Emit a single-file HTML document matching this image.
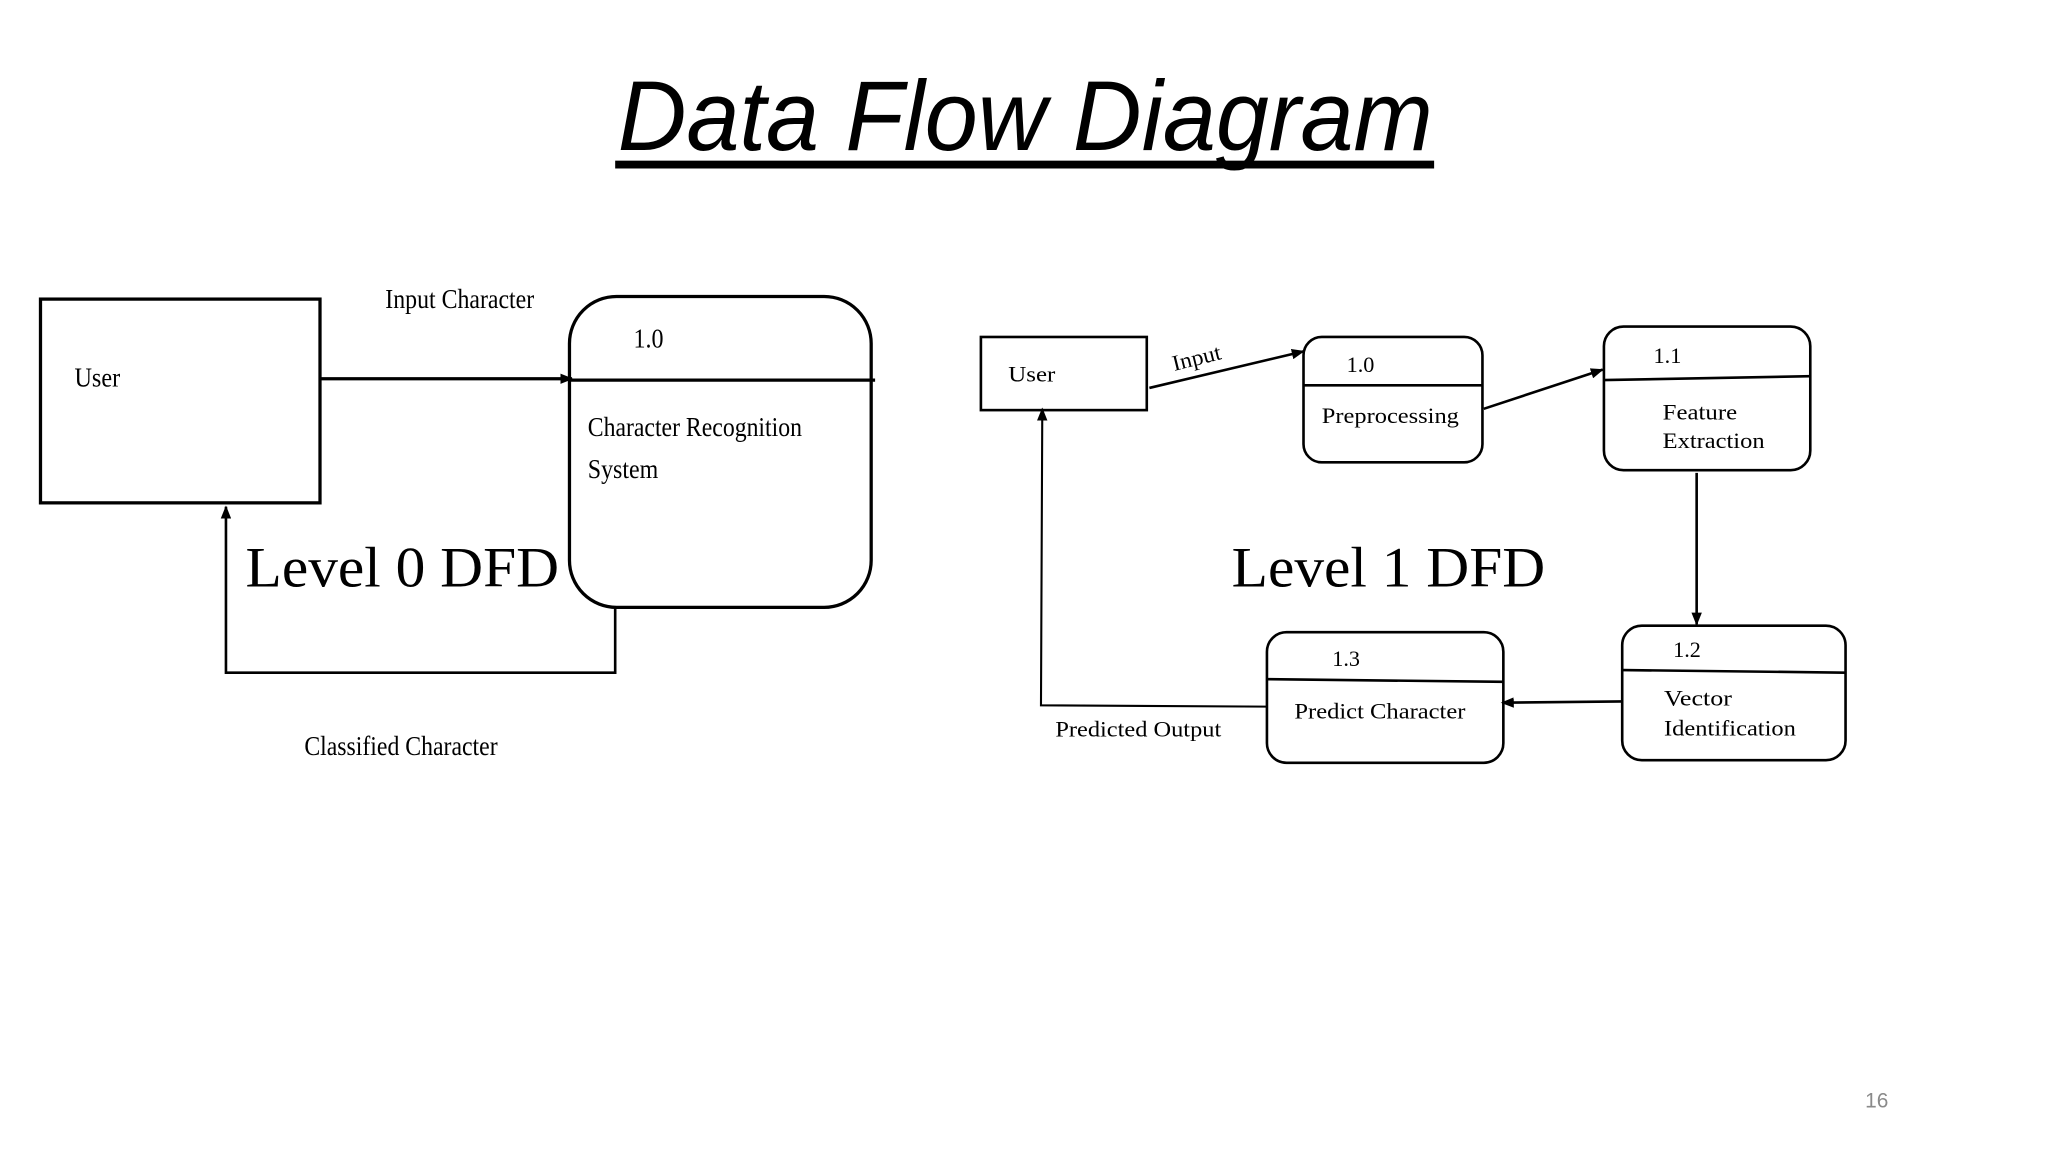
<!DOCTYPE html>
<html><head><meta charset="utf-8"><style>
html,body{margin:0;padding:0;background:#fff;}
svg{display:block;}
</style></head><body>
<svg width="2048" height="1152" viewBox="0 0 1568 882" xmlns="http://www.w3.org/2000/svg">
<defs>
<marker id="ah" markerWidth="10" markerHeight="8" refX="9" refY="4" orient="auto" markerUnits="userSpaceOnUse">
<path d="M0,0 L10,4 L0,8 Z" fill="#000"/>
</marker>
</defs>
<rect width="1568" height="882" fill="#fff"/>
<!-- title -->
<text x="473" y="115" font-family="Liberation Sans, sans-serif" font-style="italic" font-size="76" textLength="624" lengthAdjust="spacingAndGlyphs" fill="#000">Data Flow Diagram</text>
<rect x="471" y="123" width="627" height="6" fill="#000"/>

<g font-family="Liberation Serif, serif" fill="#000">
<!-- Level 0 -->
<rect x="31" y="229" width="214" height="156" fill="none" stroke="#000" stroke-width="2.5"/>
<text x="57" y="296" font-size="21" textLength="35" lengthAdjust="spacingAndGlyphs">User</text>
<line x1="245" y1="290" x2="438" y2="290" stroke="#000" stroke-width="2.5" marker-end="url(#ah)"/>
<text x="295" y="236" font-size="21" textLength="114" lengthAdjust="spacingAndGlyphs">Input Character</text>
<rect x="436" y="227" width="231" height="238" rx="36" ry="36" fill="none" stroke="#000" stroke-width="2.5"/>
<line x1="436" y1="291" x2="670" y2="291" stroke="#000" stroke-width="2.5"/>
<text x="485" y="266" font-size="21" textLength="23" lengthAdjust="spacingAndGlyphs">1.0</text>
<text x="450" y="334" font-size="21" textLength="164" lengthAdjust="spacingAndGlyphs">Character Recognition</text>
<text x="450" y="366" font-size="21" textLength="54" lengthAdjust="spacingAndGlyphs">System</text>
<text x="188" y="449" font-size="44" textLength="240" lengthAdjust="spacingAndGlyphs">Level 0 DFD</text>
<polyline points="471,465 471,515 173,515 173,388" fill="none" stroke="#000" stroke-width="2" marker-end="url(#ah)"/>
<text x="233" y="578" font-size="21" textLength="148" lengthAdjust="spacingAndGlyphs">Classified Character</text>

<!-- Level 1 -->
<rect x="751" y="258" width="127" height="56" fill="none" stroke="#000" stroke-width="2"/>
<text x="772" y="292" font-size="17" textLength="36" lengthAdjust="spacingAndGlyphs">User</text>
<line x1="880" y1="297" x2="998" y2="269" stroke="#000" stroke-width="2" marker-end="url(#ah)"/>
<text x="899" y="284" font-size="17" transform="rotate(-14 899 284)" textLength="38" lengthAdjust="spacingAndGlyphs">Input</text>
<rect x="998" y="258" width="137" height="96" rx="14" ry="14" fill="none" stroke="#000" stroke-width="2"/>
<line x1="998" y1="295" x2="1135" y2="295" stroke="#000" stroke-width="2"/>
<text x="1031" y="285" font-size="17">1.0</text>
<text x="1012" y="324" font-size="17" textLength="105" lengthAdjust="spacingAndGlyphs">Preprocessing</text>
<line x1="1136" y1="313" x2="1227" y2="283" stroke="#000" stroke-width="2" marker-end="url(#ah)"/>
<rect x="1228" y="250" width="158" height="110" rx="15" ry="15" fill="none" stroke="#000" stroke-width="2"/>
<line x1="1228" y1="291" x2="1386" y2="288" stroke="#000" stroke-width="2"/>
<text x="1266" y="278" font-size="17">1.1</text>
<text x="1273" y="321" font-size="17" textLength="57" lengthAdjust="spacingAndGlyphs">Feature</text>
<text x="1273" y="343" font-size="17" textLength="78" lengthAdjust="spacingAndGlyphs">Extraction</text>
<line x1="1299" y1="362" x2="1299" y2="478" stroke="#000" stroke-width="2" marker-end="url(#ah)"/>
<rect x="1242" y="479" width="171" height="103" rx="15" ry="15" fill="none" stroke="#000" stroke-width="2"/>
<line x1="1242" y1="513" x2="1413" y2="515" stroke="#000" stroke-width="2"/>
<text x="1281" y="503" font-size="17">1.2</text>
<text x="1274" y="540" font-size="17" textLength="52" lengthAdjust="spacingAndGlyphs">Vector</text>
<text x="1274" y="563" font-size="17" textLength="101" lengthAdjust="spacingAndGlyphs">Identification</text>
<line x1="1242" y1="537" x2="1150" y2="538" stroke="#000" stroke-width="2" marker-end="url(#ah)"/>
<rect x="970" y="484" width="181" height="100" rx="15" ry="15" fill="none" stroke="#000" stroke-width="2"/>
<line x1="970" y1="520" x2="1151" y2="522" stroke="#000" stroke-width="2"/>
<text x="1020" y="510" font-size="17">1.3</text>
<text x="991" y="550" font-size="17" textLength="131" lengthAdjust="spacingAndGlyphs">Predict Character</text>
<polyline points="970,541 797,540 798,313" fill="none" stroke="#000" stroke-width="1.6" marker-end="url(#ah)"/>
<text x="808" y="564" font-size="17" textLength="127" lengthAdjust="spacingAndGlyphs">Predicted Output</text>
<text x="943" y="449" font-size="44" textLength="240" lengthAdjust="spacingAndGlyphs">Level 1 DFD</text>
</g>
<text x="1428" y="848" font-family="Liberation Sans, sans-serif" font-size="16" fill="#8a8a8a">16</text>
</svg>
</body></html>
